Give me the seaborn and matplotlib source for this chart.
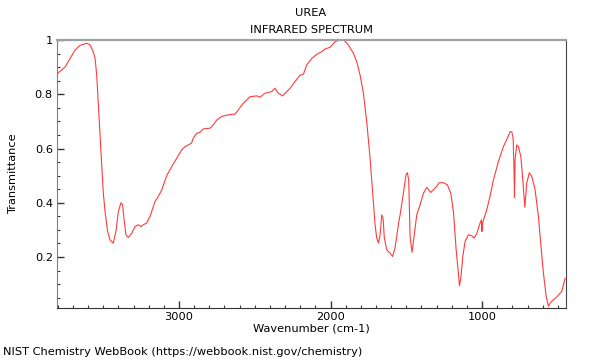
import matplotlib
matplotlib.use('Agg')
import matplotlib.pyplot as plt
from matplotlib.ticker import MultipleLocator, FuncFormatter
import numpy as np
import pandas as pd
import seaborn as sns

wavenumber = [3805, 3752, 3686, 3653, 3609, 3587, 3566, 3554, 3543, 3533,
              3521, 3510, 3500, 3488, 3471, 3455, 3434, 3416, 3400, 3383,
              3372, 3361, 3350, 3335, 3312, 3290, 3269, 3251, 3236, 3213,
              3191, 3158, 3137, 3114, 3081, 3048, 3015, 2982, 2960, 2939,
              2917, 2906, 2883, 2861, 2840, 2795, 2774, 2751, 2718, 2675,
              2630, 2609, 2576, 2531, 2487, 2465, 2432, 2388, 2366, 2345,
              2316, 2267, 2234, 2201, 2179, 2157, 2124, 2091, 2058, 2036,
              2003, 1970, 1937, 1911, 1882, 1849, 1827, 1805, 1783, 1761,
              1739, 1721, 1706, 1695, 1684, 1673, 1662, 1653, 1645, 1629,
              1618, 1607, 1590, 1574, 1563, 1552, 1541, 1519, 1502, 1493,
              1484, 1475, 1462, 1449, 1431, 1409, 1387, 1365, 1339, 1310,
              1282, 1255, 1229, 1206, 1188, 1171, 1155, 1149, 1140, 1127,
              1112, 1090, 1067, 1052, 1034, 1013, 1004, 1001, 997, 969,
              958, 947, 925, 892, 859, 833, 815, 804, 795, 789,
              786, 782, 771, 760, 744, 731, 718, 705, 688, 672,
              650, 628, 611, 595, 577, 562, 551, 529, 503, 474,
              452]
transmittance = [0.875, 0.900, 0.963, 0.980, 0.988, 0.982, 0.957, 0.934, 0.871, 0.773,
                 0.650, 0.540, 0.440, 0.368, 0.294, 0.263, 0.251, 0.294, 0.368, 0.400,
                 0.392, 0.331, 0.282, 0.272, 0.288, 0.312, 0.319, 0.312, 0.319, 0.325,
                 0.350, 0.405, 0.423, 0.447, 0.500, 0.533, 0.564, 0.595, 0.607, 0.613,
                 0.620, 0.638, 0.656, 0.660, 0.672, 0.675, 0.687, 0.705, 0.718, 0.724,
                 0.727, 0.742, 0.767, 0.791, 0.794, 0.789, 0.804, 0.810, 0.822, 0.804,
                 0.794, 0.822, 0.847, 0.870, 0.874, 0.908, 0.932, 0.947, 0.957, 0.967,
                 0.973, 0.994, 1.000, 0.999, 0.982, 0.951, 0.920, 0.871, 0.804, 0.699,
                 0.564, 0.429, 0.319, 0.270, 0.251, 0.282, 0.355, 0.343, 0.270, 0.227,
                 0.220, 0.214, 0.202, 0.235, 0.276, 0.320, 0.355, 0.435, 0.503, 0.511,
                 0.484, 0.276, 0.217, 0.276, 0.355, 0.392, 0.435, 0.457, 0.438, 0.454,
                 0.474, 0.474, 0.466, 0.435, 0.362, 0.227, 0.134, 0.094, 0.122, 0.202,
                 0.257, 0.282, 0.278, 0.270, 0.288, 0.325, 0.337, 0.294, 0.325, 0.374,
                 0.400, 0.425, 0.484, 0.552, 0.607, 0.638, 0.662, 0.662, 0.638, 0.521,
                 0.420, 0.558, 0.613, 0.607, 0.570, 0.484, 0.384, 0.472, 0.511, 0.497,
                 0.448, 0.349, 0.239, 0.141, 0.055, 0.018, 0.030, 0.042, 0.055, 0.073,
                 0.122]

sns.set_style('white')
plt.rcParams['font.family'] = ['DejaVu Sans']
plt.rcParams['font.size'] = 8
plt.rcParams['text.color'] = 'black'
plt.rcParams['axes.labelcolor'] = 'black'
plt.rcParams['xtick.color'] = 'black'
plt.rcParams['ytick.color'] = 'black'

df = pd.DataFrame({'wn': wavenumber, 't': transmittance})

fig = plt.figure(figsize=(6, 3.6), dpi=100)
ax = fig.add_axes([57 / 600, 1 - 308 / 360, 509 / 600, 268 / 360])
sns.lineplot(data=df, x='wn', y='t', ax=ax, color='#ff3b3b', linewidth=0.8,
             estimator=None, sort=False)

ax.set_xlim(3805, 446)
ax.set_ylim(0.012, 1.0)
ax.xaxis.set_major_locator(MultipleLocator(1000))
ax.xaxis.set_minor_locator(MultipleLocator(100))
ax.yaxis.set_major_locator(MultipleLocator(0.2))
ax.yaxis.set_minor_locator(MultipleLocator(0.05))
ax.xaxis.set_major_formatter(FuncFormatter(lambda v, p: f'{v:g}'))
ax.yaxis.set_major_formatter(FuncFormatter(lambda v, p: f'{v:g}'))
ax.tick_params(which='both', direction='in', labelsize=8.2, color='#333333',
               bottom=True, left=True, top=False, right=False)
ax.tick_params(which='major', length=5, width=1)
ax.tick_params(which='minor', length=2.5, width=0.8)
ax.tick_params(axis='x', pad=3)
ax.tick_params(axis='y', pad=3)

ax.spines['top'].set_color('#a0a0a0')
ax.spines['top'].set_linewidth(1.6)
ax.spines['left'].set_color('#808080')
ax.spines['right'].set_color('#444444')
ax.spines['bottom'].set_color('#333333')

ax.set_xlabel('Wavenumber (cm-1)', fontsize=8.2, labelpad=1)
ax.set_ylabel('Transmittance', fontsize=8.2, labelpad=12)

fig.text(311 / 600, 1 - 13 / 360, 'UREA', ha='center', va='center', fontsize=8.2)
fig.text(311 / 600, 1 - 30 / 360, 'INFRARED SPECTRUM', ha='center', va='center', fontsize=8.2)
fig.text(3 / 600, 1 - 352 / 360, 'NIST Chemistry WebBook (https://webbook.nist.gov/chemistry)',
         ha='left', va='center', fontsize=8.2)

fig.savefig('out.png', dpi=100)
plt.close(fig)
